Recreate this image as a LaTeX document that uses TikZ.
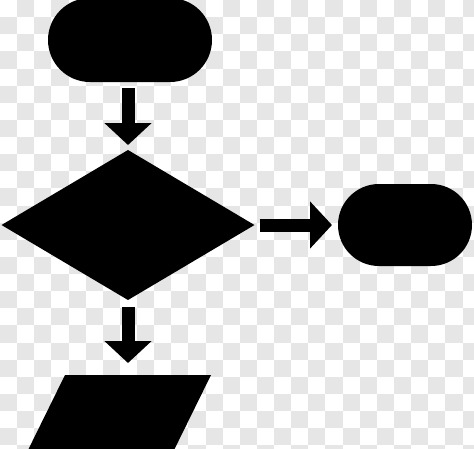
\documentclass[tikz,border=0pt]{standalone}
\usetikzlibrary{shapes.geometric,arrows.meta}
\definecolor{chk}{RGB}{230,230,230}
\begin{document}
\begin{tikzpicture}[x=1pt,y=-1pt,
  term/.style={rectangle, fill=black, inner sep=0pt, outer sep=0pt},
  decision/.style={diamond, fill=black, inner sep=0pt, outer sep=0pt},
  flow/.style={draw=black, line width=13pt, -{Triangle[length=22pt,width=46pt]}}]
\useasboundingbox (0,0) rectangle (474,448);
\begin{scope}
\clip (0,0) rectangle (474,448);
\fill[white] (0,0) rectangle (474,448);
\foreach \i in {0,...,27}{\foreach \j in {0,...,26}{
  \pgfmathtruncatemacro\cellodd{mod(\i+\j,2)}
  \ifnum\cellodd=1 \fill[chk] (\i*17.13,\j*17.13) rectangle ++(17.13,17.13);\fi}}
\node[term, minimum width=164pt, minimum height=84pt, rounded corners=42pt] (start) at (130,40) {};
\node[decision, minimum width=253pt, minimum height=150pt] (dec) at (128,225) {};
\node[term, minimum width=134pt, minimum height=82pt, rounded corners=41pt] (stop) at (405,225) {};
\fill[black] (65,375) -- (211,375) -- (171.6,455) -- (25.6,455) -- cycle;
\coordinate (io) at (126.5,375);
\draw[flow, shorten <=6pt, shorten >=5pt] (start.south -| dec.north) -- (dec.north);
\draw[flow, shorten <=5pt, shorten >=6pt] (dec.east) -- (stop.west);
\draw[flow, shorten <=7pt, shorten >=12pt] (dec.south) -- (dec.south |- io);
\end{scope}
\end{tikzpicture}
\end{document}
